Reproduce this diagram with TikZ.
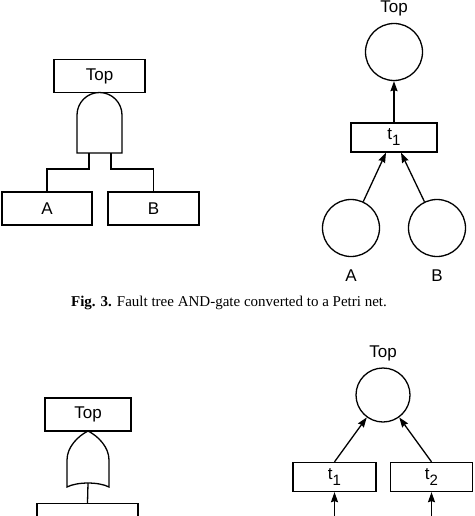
\documentclass[tikz,border=0pt]{standalone}
\usepackage{fontspec}
\setmainfont{Liberation Serif}
\setsansfont{Liberation Sans}
\usepackage{tikz}
\usetikzlibrary{calc, positioning}
\usetikzlibrary{arrows.meta}
\tikzset{>={Stealth[length=10pt,width=7pt,inset=1pt]}}
\newcommand{\tsub}[1]{\raisebox{-6pt}{\fontsize{15}{15}\selectfont #1}}

\begin{document}
\begin{tikzpicture}[x=1pt, y=1pt, line width=1.3pt,
	every node/.style={font=\sffamily\fontsize{17}{19}\selectfont},
	event/.style={draw, minimum height=33pt, inner sep=0pt},
	place/.style={draw, circle, minimum size=57pt, inner sep=0pt},
	trans/.style={draw, minimum height=29pt, inner sep=0pt},
	lbl/.style={inner sep=0pt}]
	\useasboundingbox (0,0) rectangle (474,-516);
	\clip (0,0) rectangle (474,-516);
	% Fig. 3, fault tree
	\node [event, minimum width=91pt] (topand) at (99.5,-76) {Top};
	\draw (77,-153) -- (77,-115) arc (180:0:22.5) -- (122,-153) -- cycle;
	\coordinate (andl) at (89,-153);
	\coordinate (andr) at (111,-153);
	\node [event, minimum width=90pt] (a) at (47,-208.5) {A};
	\node [event, minimum width=91pt] (b) at (153.5,-208.5) {B};
	\draw (andl) -- ++(0,-16) -| (a.north);
	\draw (andr) -- ++(0,-16) -| (b.north);
	% Fig. 3, Petri net
	\node [place] (ptop) at (394,-52) {};
	\node [lbl, above=6pt of ptop] (ptoplbl) {Top};
	\node [trans, minimum width=86pt] (t1) at (394,-137.5) {t\tsub{1}};
	\node [place] (pa) at (351,-228) {};
	\node [place] (pb) at (437,-228) {};
	\node [lbl, below=12pt of pa] (palbl) {A};
	\node [lbl, below=12pt of pb] (pblbl) {B};
	\draw [->] (t1) -- (ptop);
	\draw [->] (pa) -- ([xshift=-8pt]t1.south);
	\draw [->] (pb) -- ([xshift=7pt]t1.south);
	\node [font=\rmfamily\fontsize{15}{18}\selectfont] (cap3) at (229,-303)
		{\textbf{Fig. 3.} Fault tree AND-gate converted to a Petri net.};
	% Fig. 4, fault tree
	\node [event, minimum width=86pt] (topor) at (88,-414.5) {Top};
	\draw (88,-431) .. controls (78,-436) and (67,-447) .. (67,-460) -- (67,-487)
		.. controls (77,-481.7) and (99,-481.7) .. (109,-487) -- (109,-460)
		.. controls (109,-447) and (98,-436) .. (88,-431);
	\coordinate (orout) at (88,-483);
	\node [event, minimum width=101pt] (c) at (87.5,-520) {};
	\draw (orout) -- (c.north);
	% Fig. 4, Petri net
	\node [place, minimum size=54pt] (qtop) at (383,-395) {};
	\node [lbl, above=6pt of qtop] (qtoplbl) {Top};
	\node [trans, minimum width=83pt] (u1) at (334.5,-477) {t\tsub{1}};
	\node [trans, minimum width=82pt] (u2) at (431.5,-477) {t\tsub{2}};
	\draw [->] (u1.north) -- (qtop);
	\draw [->] (u2.north) -- (qtop);
	\coordinate (in1) at (334.5,-540);
	\coordinate (in2) at (431.5,-540);
	\draw [->] (in1) -- (u1.south);
	\draw [->] (in2) -- (u2.south);
\end{tikzpicture}
\end{document}
